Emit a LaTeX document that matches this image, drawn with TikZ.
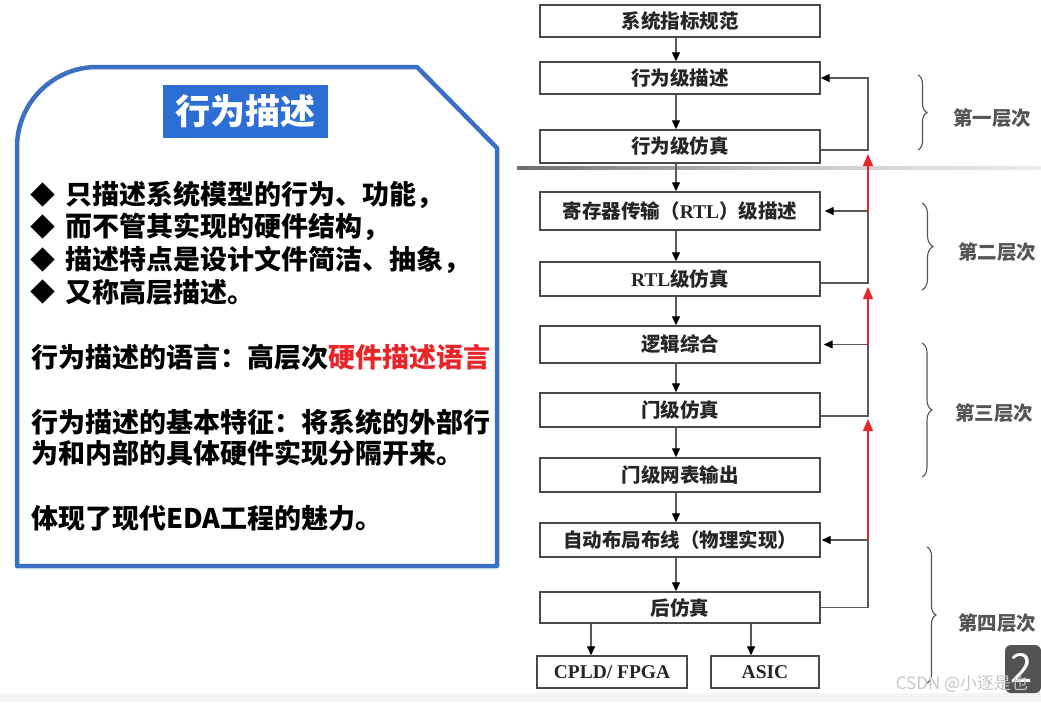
\documentclass[tikz,border=0pt]{standalone}
\usepackage{fontspec}
\setmainfont{Noto Sans CJK SC}
\newfontfamily\lser{Liberation Serif}
\usetikzlibrary{arrows.meta,decorations.pathreplacing}
\definecolor{pblue}{HTML}{3A6FC4}
\definecolor{tblue}{HTML}{2D6ED4}
\definecolor{boxgray}{HTML}{4A4A4A}
\definecolor{hred}{HTML}{E8262A}
\definecolor{lblgray}{HTML}{555555}
\begin{document}
\begin{tikzpicture}[x=1pt,y=-1pt,
 fbox/.style={draw=boxgray,line width=1.4pt,fill=white,minimum width=280pt,inner sep=0pt,font=\fontsize{19.5}{22}\selectfont\bfseries,text=black!85},
 sbox/.style={fbox,minimum width=0pt},
 darr/.style={draw=gray!70!black,line width=1.3pt,-{Triangle[length=9pt,width=8pt,color=black]}},
 rarr/.style={draw=hred,line width=1.2pt,-{Triangle[length=12pt,width=10pt]}},
 brc/.style={draw=gray!65!black,line width=1.1pt,decorate},
 lvl/.style={font=\fontsize{19.5}{22}\selectfont\bfseries,text=lblgray},
 ptext/.style={anchor=west,inner sep=0pt,font=\fontsize{27}{31}\selectfont\bfseries},
 bul/.style={inner sep=0pt,font=\fontsize{25}{25}\selectfont},
 panel/.style={draw=pblue,line width=4.5pt,line join=round},
]
\useasboundingbox (0,0) rectangle (1041,702);
\fill[white] (0,0) rectangle (1041,702);
\fill[gray!8] (0,693) rectangle (1041,702);

% ---------- left panel ----------
\draw[panel] (417,67) -- (497,148) -- (497,566) -- (17,566) -- (17,147) .. controls (17,103) and (53,67) .. (97,67) -- cycle;
\node[fill=tblue,minimum width=165pt,minimum height=53pt,inner sep=0pt,text=white,font=\fontsize{35}{40}\selectfont\bfseries] (title) at (245.5,111.5) {行为描述};

\node[bul] (d1) at (43,195) {◆};
\node[bul] (d2) at (43,227) {◆};
\node[bul] (d3) at (43,260) {◆};
\node[bul] (d4) at (43,292) {◆};
\node[ptext] (l1) at (65,195) {只描述系统模型的行为、功能，};
\node[ptext] (l2) at (65,227) {而不管其实现的硬件结构，};
\node[ptext] (l3) at (65,260) {描述特点是设计文件简洁、抽象，};
\node[ptext] (l4) at (65,292) {又称高层描述。};
\node[ptext] (l5) at (31,357) {行为描述的语言：高层次\textcolor{hred}{硬件描述语言}};
\node[ptext,align=left] (l6) at (31,437.5) {行为描述的基本特征：将系统的外部行\\为和内部的具体硬件实现分隔开来。};
\node[ptext] (l7) at (31,518) {体现了现代EDA工程的魅力。};

% ---------- separator ----------
\shade[left color=gray!85!black, right color=gray!15, middle color=gray!45] (517,166.5) rectangle (1041,169.5);

% ---------- flow boxes ----------
\node[fbox,minimum height=32pt] (b1) at (680,21) {系统指标规范};
\node[fbox,minimum height=32pt] (b2) at (680,78) {行为级描述};
\node[fbox,minimum height=33pt] (b3) at (680,146.5) {行为级仿真};
\node[fbox,minimum height=38pt] (b4) at (680,211) {寄存器传输（{\lser\bfseries RTL}）级描述};
\node[fbox,minimum height=34pt] (b5) at (680,279) {{\lser\bfseries RTL}级仿真};
\node[fbox,minimum height=37pt] (b6) at (680,344.5) {逻辑综合};
\node[fbox,minimum height=34pt] (b7) at (680,410) {门级仿真};
\node[fbox,minimum height=34pt] (b8) at (680,475) {门级网表输出};
\node[fbox,minimum height=34pt] (b9) at (680,540) {自动布局布线（物理实现）};
\node[fbox,minimum height=31pt] (b10) at (680,607.5) {后仿真};
\node[sbox,minimum width=150pt,minimum height=32pt] (b11) at (612,672) {\lser\bfseries CPLD/ FPGA};
\node[sbox,minimum width=108pt,minimum height=32pt] (b12) at (765,672) {\lser\bfseries ASIC};

% down arrows
\draw[darr] ([xshift=-4pt]b1.south) -- ([xshift=-4pt]b2.north);
\draw[darr] ([xshift=-4pt]b2.south) -- ([xshift=-4pt]b3.north);
\draw[darr] ([xshift=-4pt]b3.south) -- ([xshift=-4pt]b4.north);
\draw[darr] ([xshift=-4pt]b4.south) -- ([xshift=-4pt]b5.north);
\draw[darr] ([xshift=-4pt]b5.south) -- ([xshift=-4pt]b6.north);
\draw[darr] ([xshift=-4pt]b6.south) -- ([xshift=-4pt]b7.north);
\draw[darr] ([xshift=-4pt]b7.south) -- ([xshift=-4pt]b8.north);
\draw[darr] ([xshift=-4pt]b8.south) -- ([xshift=-4pt]b9.north);
\draw[darr] ([xshift=-4pt]b9.south) -- ([xshift=-4pt]b10.north);
\coordinate (s11) at (591,0);
\coordinate (s12) at (751,0);
\draw[darr] (b10.south -| s11) -- (b11.north -| s11);
\draw[darr] (b10.south -| s12) -- (b12.north -| s12);

% feedback loops
\coordinate (bus) at (868,0);
\draw[darr] ([yshift=-3.5pt]b3.east) -| (bus |- b2.east) -- (b2.east);
\draw[darr] ([yshift=-4pt]b5.east) -| (bus |- b4.east) -- ([xshift=4pt]b4.east);
\draw[darr] ([yshift=-6pt]b7.east) -| (bus |- b6.east) -- ([xshift=3pt]b6.east);
\draw[darr] (b10.east) -| (bus |- b9.east) -- ([xshift=1pt]b9.east);

% red upward arrows
\coordinate (r1) at (868,419);
\coordinate (r2) at (868,287);
\coordinate (r3) at (868,154);
\draw[rarr] (bus |- b9.east) -- (r1);
\draw[rarr] (bus |- b6.east) -- (r2);
\draw[rarr] (bus |- b4.east) -- (r3);

% braces and levels
\draw[brc,decoration={brace,amplitude=9pt}] (918,75) -- (918,150);
\draw[brc,decoration={brace,amplitude=11pt}] (922,203) -- (922,290);
\draw[brc,decoration={brace,amplitude=10pt}] (922,343) -- (922,477);
\draw[brc,decoration={brace,amplitude=9pt}] (927,547) -- (927,683);
\node[lvl] (v1) at (992,118) {第一层次};
\node[lvl] (v2) at (997,252) {第二层次};
\node[lvl] (v3) at (994,413) {第三层次};
\node[lvl] (v4) at (997,623) {第四层次};

% page badge and watermark
\fill[gray!65!black,rounded corners=6pt] (1005,645) rectangle (1041,693);
\node[anchor=west,text=white,font=\fontsize{40}{40}\selectfont,inner sep=0pt] (pg) at (1010,668) {2};
\node[text=gray!45,font=\fontsize{17}{17}\selectfont,inner sep=0pt] (wm) at (962,684) {CSDN @小逐是也};
\end{tikzpicture}
\end{document}
